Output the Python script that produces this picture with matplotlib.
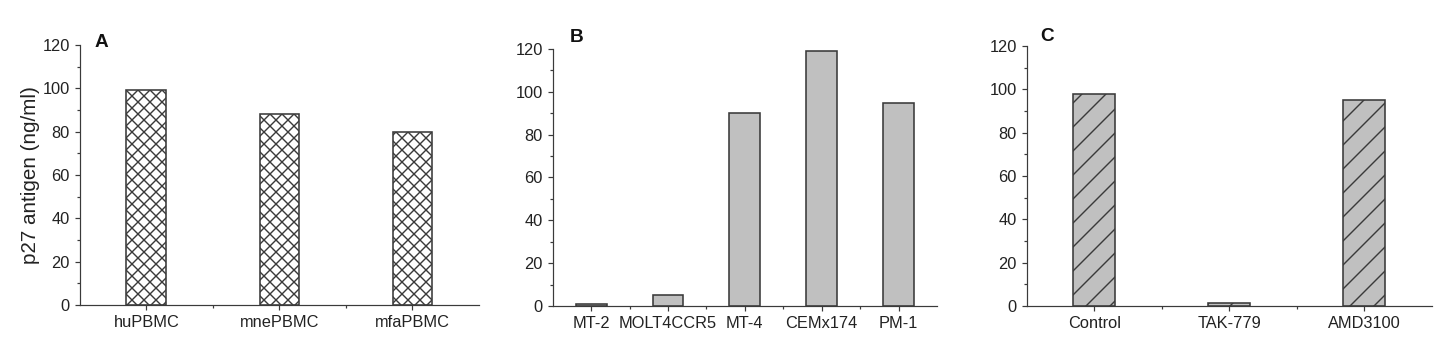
import matplotlib
matplotlib.use("Agg")
import matplotlib.pyplot as plt
from matplotlib.ticker import MultipleLocator, FixedLocator

# panel A: PBMC sources
cats_a = ["huPBMC", "mnePBMC", "mfaPBMC"]
vals_a = [99, 88, 80]

# panel B: cell lines
cats_b = ["MT-2", "MOLT4CCR5", "MT-4", "CEMx174", "PM-1"]
vals_b = [1, 5, 90, 119, 95]

# panel C: inhibitors
cats_c = ["Control", "TAK-779", "AMD3100"]
vals_c = [98, 1.5, 95]

plt.rcParams["font.family"] = ["Liberation Sans", "DejaVu Sans"]
plt.rcParams["hatch.linewidth"] = 0.7

dark = "#3a3a3a"
grey = "#c0c0c0"

fig = plt.figure(figsize=(1448 / 144, 357 / 144), dpi=144)

# [left, bottom, width, height] in figure fractions
boxes = [
    [0.0552, 0.1457, 0.2756, 0.7283],
    [0.3817, 0.1429, 0.2654, 0.7199],
    [0.7090, 0.1429, 0.2797, 0.7283],
]
# agg hatch: '//' ~24 px between lines, 'xxxx' ~12 px diamonds
panels = [
    ("A", cats_a, vals_a, 0.30, "white", "xxxx", (0.054, 1.01)),
    ("B", cats_b, vals_b, 0.40, grey, None, (0.061, 1.043)),
    ("C", cats_c, vals_c, 0.31, grey, "//", (0.05, 1.035)),
]

for box, (letter, cats, vals, width, fc, hatch, lpos) in zip(boxes, panels):
    ax = fig.add_axes(box)
    x = list(range(1, len(cats) + 1))
    ax.bar(x, vals, width=width, color=fc, edgecolor=dark, linewidth=0.8,
           hatch=hatch, zorder=2)
    ax.set_xlim(0.5, len(cats) + 0.5)
    ax.set_ylim(0, 120)
    ax.set_xticks(x)
    ax.set_xticklabels(cats)
    ax.xaxis.set_minor_locator(FixedLocator([i + 0.5 for i in x[:-1]]))
    ax.yaxis.set_major_locator(MultipleLocator(20))
    ax.yaxis.set_minor_locator(MultipleLocator(10))
    for side in ["top", "right"]:
        ax.spines[side].set_visible(False)
    for side in ["left", "bottom"]:
        ax.spines[side].set_linewidth(0.6)
        ax.spines[side].set_color(dark)
    ax.tick_params(which="major", direction="out", length=2.5, width=0.6,
                   color=dark, labelsize=8.2, labelcolor="#222222", pad=2.5)
    ax.tick_params(which="minor", direction="out", length=1.5, width=0.6,
                   color=dark)
    ax.text(lpos[0], lpos[1], letter, transform=ax.transAxes, ha="center",
            va="center", fontsize=9.5, fontweight="bold", color="#111111")
    if letter == "A":
        ax.set_ylabel("p27 antigen (ng/ml)", fontsize=10.3, color="#222222")
        ax.yaxis.set_label_coords(-0.10, 0.5)

fig.savefig("out.png", dpi=144)
